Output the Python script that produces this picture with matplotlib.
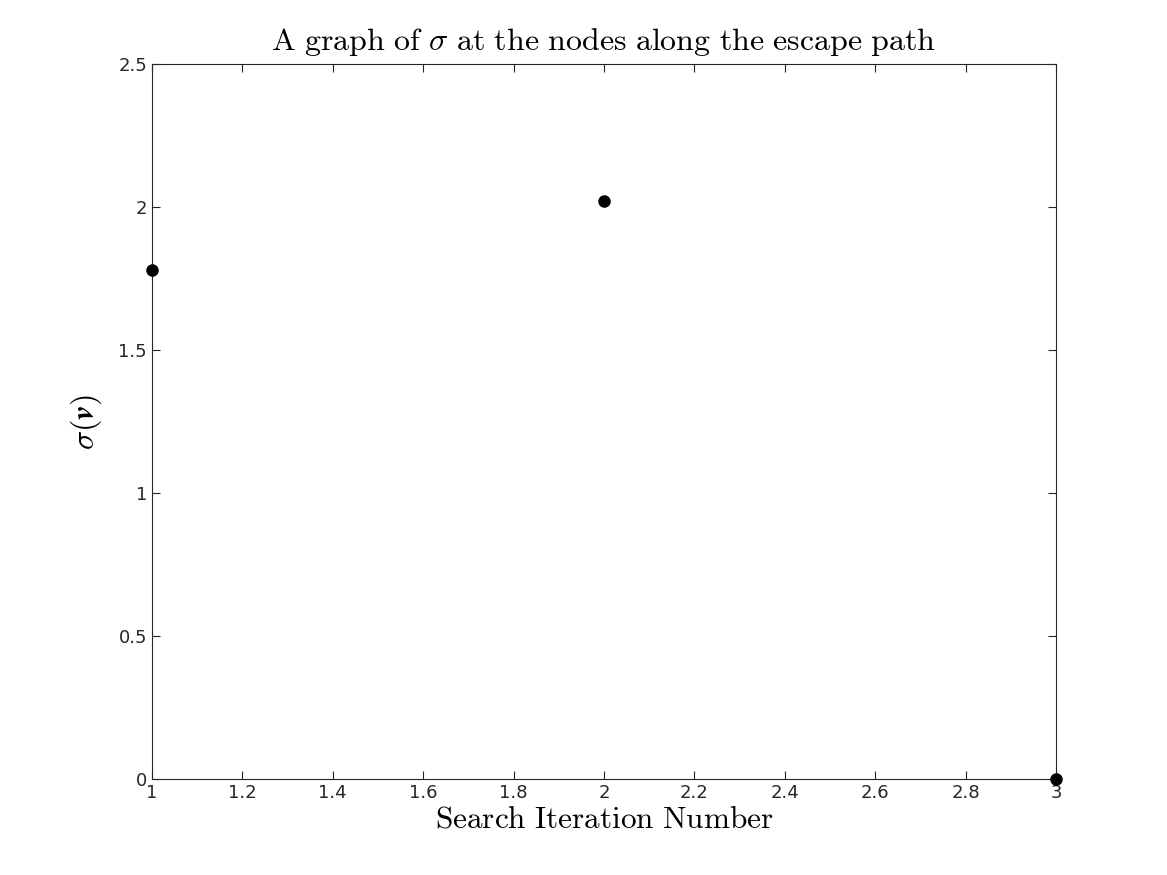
import matplotlib
matplotlib.use('Agg')
import matplotlib.pyplot as plt

plt.rcParams['mathtext.fontset'] = 'cm'

iterations = [1, 2, 3]
sigma_vals = [1.78, 2.02, 0.0]
xticks = [1, 1.2, 1.4, 1.6, 1.8, 2, 2.2, 2.4, 2.6, 2.8, 3]
yticks = [0, 0.5, 1, 1.5, 2, 2.5]

fig = plt.figure(figsize=(11.67, 8.75), dpi=100)
ax = fig.add_axes([0.1302, 0.1097, 0.9049 - 0.1302, 0.9269 - 0.1097])

ax.plot(iterations, sigma_vals, linestyle='None', marker='o', color='black',
        markersize=8, clip_on=False, zorder=3)

ax.set_xlim(1, 3)
ax.set_ylim(0, 2.5)
ax.set_xticks(xticks)
ax.set_xticklabels(['%g' % t for t in xticks])
ax.set_yticks(yticks)
ax.set_yticklabels(['%g' % t for t in yticks])
ax.tick_params(direction='in', top=True, right=True, labelsize=13,
               colors='#262626', labelcolor='#262626', length=6, width=0.8)
for s in ax.spines.values():
    s.set_color('#262626')
    s.set_linewidth(0.8)

ax.set_title(r'$\mathrm{A\ graph\ of\ }\sigma\mathrm{\ at\ the\ nodes\ along\ the\ escape\ path}$',
             fontsize=23, pad=10)
ax.set_xlabel(r'$\mathrm{Search\ Iteration\ Number}$', fontsize=22.5, labelpad=2)
ax.set_ylabel(r'$\sigma(\boldsymbol{v})$', fontsize=23, labelpad=10)

fig.savefig('out.png', dpi=100)
